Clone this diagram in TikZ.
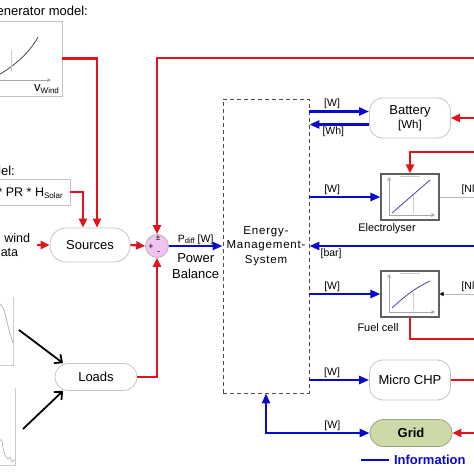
\documentclass[tikz,border=0pt]{standalone}
\usepackage{fontspec}
\setmainfont{Liberation Sans}
\newfontfamily\emsfont[LetterSpace=7]{Liberation Sans}
\usetikzlibrary{arrows.meta,calc}
\definecolor{cred}{RGB}{225,20,30}
\definecolor{cblue}{RGB}{10,10,205}
\definecolor{cpink}{RGB}{240,195,240}
\definecolor{cgrid}{RGB}{205,218,168}
\definecolor{cbox}{RGB}{195,195,195}
\begin{document}
\begin{tikzpicture}[x=1pt,y=-1pt,
  redline/.style={draw=cred, line width=2.2pt},
  redarr/.style={redline, -{Triangle[length=9pt,width=8pt]}},
  bluearr/.style={draw=cblue, line width=2.4pt, -{Triangle[length=10pt,width=8pt]}},
  bluedbl/.style={draw=cblue, line width=2.4pt, {Triangle[length=10pt,width=8pt]}-{Triangle[length=10pt,width=8pt]}},
  blackarr/.style={draw=black, line width=1.8pt, -{Straight Barb[length=6pt,width=11pt]}},
  pill/.style={draw=gray!45, line width=0.8pt, fill=white, rounded corners=#1, inner sep=0pt,
    font=\fontsize{13}{15}\selectfont, align=center},
  plotbox/.style={draw=gray!75!black, line width=1.1pt, fill=white, minimum width=58pt, minimum height=46pt, inner sep=0pt},
  lbl/.style={font=\fontsize{10.5}{12}\selectfont, inner sep=1.5pt},
  txtb/.style={font=\fontsize{13}{15}\selectfont, inner sep=0pt},
  thin/.style={draw=gray!70, line width=0.7pt},
  faint/.style={draw=gray!40, line width=0.6pt}
]
\useasboundingbox (0,0) rectangle (474,474);
\fill[white] (0,0) rectangle (474,474);

% ---------- wind generator model ----------
\node[txtb, anchor=base east] (windtitle) at (88,15) {Wind generator model:};
\node[draw=cbox, line width=0.8pt, fill=white, minimum width=82pt, minimum height=75pt, inner sep=0pt] (windbox) at (21,58.5) {};
\draw[thin, -{Stealth[length=4pt,width=4pt]}] (-10,80) -- (51,80);
\draw[draw=gray!60!black, line width=0.8pt] (-5,77) .. controls (15,66) and (30,52) .. (38,37);
\draw[faint] (11,50) -- (11,72);
\node[inner sep=0pt, anchor=base west] (vwind) at (34,91) {{\fontsize{13}{15}\selectfont v}{\fontsize{8}{9}\selectfont\raisebox{-2pt}{Wind}}};

% ---------- PV model ----------
\node[txtb, anchor=base east] (pvtitle) at (15,175) {PV model:};
\node[draw=cbox, line width=0.8pt, fill=white, minimum width=90pt, minimum height=26pt, inner sep=0pt] (pvbox) at (25,192) {};
\node[inner sep=0pt, anchor=east] (pvtxt) at (63,193) {\fontsize{12.5}{14}\selectfont E = A * r * PR * H{\fontsize{8}{9}\selectfont\raisebox{-2pt}{Solar}}};

% ---------- measured data ----------
\node[align=center, font=\fontsize{12.5}{14}\selectfont, inner sep=0pt] (datatxt) at (6,245) {PV, wind\\data};
\coordinate (dataR) at (37,245);

% ---------- sources, sum, loads ----------
\node[pill=16pt, minimum width=80pt, minimum height=34pt] (sources) at (90,245) {Sources};
\node[circle, draw=gray!60, line width=0.7pt, fill=cpink, minimum size=23pt, inner sep=0pt] (sum) at (157,246) {};
\node[inner sep=0pt, font=\fontsize{8}{9}\selectfont] (spm) at ($(sum)+(1,-8)$) {±};
\node[inner sep=0pt, font=\fontsize{9}{9}\selectfont] (splus) at ($(sum)+(-6,0.5)$) {+};
\node[inner sep=0pt, font=\fontsize{9}{9}\selectfont] (sminus) at ($(sum)+(1.5,7)$) {-};
\node[pill=13.5pt, minimum width=82pt, minimum height=27pt] (loads) at (96,377) {Loads};

% left load profiles
\draw[faint] (13,297) -- (13,365) -- (-5,365);
\draw[draw=gray!55, line width=0.8pt] (-2,303) .. controls (4,304) and (6,318) .. (8,326) .. controls (10,334) and (12,340) .. (13,343);
\draw[faint] (15,388) -- (15,465) -- (-5,465);
\draw[draw=gray!55, line width=0.7pt] (-2,438) -- (2,441) -- (3,448) -- (5,455) -- (8,459) -- (10,457) -- (12,462) -- (15,459);
\coordinate (lp1) at (19,330);
\coordinate (lp2) at (23,429);

% ---------- EMS ----------
\node[draw=gray!60!black, dash pattern=on 4pt off 3pt, line width=0.9pt, minimum width=86pt, minimum height=294pt,
  inner sep=0pt, align=center, font=\emsfont\fontsize{11.5}{14.5}\selectfont] (ems) at (266,246) {Energy-\\Management-\\System};

% ---------- right side components ----------
\node[pill=13pt, minimum width=81pt, minimum height=40pt] (bat) at (410,118) {Battery\\[-1pt]{\fontsize{11.5}{13}\selectfont [Wh]}};
\node[plotbox] (elec) at (410,197) {};
\node[plotbox] (fc) at (410,294) {};
\node[pill=13pt, minimum width=81pt, minimum height=40pt] (chp) at (410,380) {Micro CHP};
\node[pill=13.5pt, minimum width=82pt, minimum height=27pt, fill=cgrid, draw=cgrid!75!black, font=\fontsize{13}{15}\selectfont\bfseries] (grid) at (411,433) {Grid};

% electrolyser plot
\draw[thin, -{Stealth[length=4pt,width=4pt]}] (389,215) -- (389,177);
\draw[thin, -{Stealth[length=4pt,width=4pt]}] (389,215) -- (435,215);
\draw[faint] (413,195) -- (413,213);
\draw[faint] (400,176) -- (420,176);
\draw[draw=cblue!50!gray, line width=0.8pt] (392,213) -- (430,180);
\node[font=\fontsize{11}{13}\selectfont, inner sep=0pt] (eleclbl) at (387,229) {Electrolyser};

% fuel cell plot
\draw[thin, -{Stealth[length=4pt,width=4pt]}] (389,312) -- (389,274);
\draw[thin, -{Stealth[length=4pt,width=4pt]}] (389,312) -- (435,312);
\draw[faint] (413,292) -- (413,310);
\draw[faint] (400,273) -- (420,273);
\draw[draw=cblue!50!gray, line width=0.8pt] (392,308) .. controls (405,296) and (415,288) .. (430,281);
\node[font=\fontsize{11}{13}\selectfont, inner sep=0pt] (fclbl) at (378,328) {Fuel cell};

% ---------- coordinates on the right edge ----------
\coordinate (topR) at (476,58);
\coordinate (batR) at (476,118);
\coordinate (elR) at (476,152);
\coordinate (elG) at (476,197);
\coordinate (barR) at (476,246);
\coordinate (fcG) at (476,294);
\coordinate (fcR) at (476,339);
\coordinate (chpR) at (476,380);
\coordinate (gridR) at (476,433);
\coordinate (b1) at ([yshift=6.5pt]bat.west);
\coordinate (b2) at ([yshift=-6.5pt]bat.west);

% ---------- red connectors ----------
\draw[redarr] (windbox.east) -| ([xshift=7pt]sources.north);
\draw[redarr] (pvbox.east) -| ([xshift=-7pt]sources.north);
\draw[redarr] (dataR) -- (sources.west);
\draw[redarr] (sources.east) -- (sum.west);
\draw[redarr] (topR) -| (sum.north);
\draw[redarr] (loads.east) -| (sum.south);
\draw[redarr] (batR) -- (bat.east);
\draw[redarr] (elR) -| (elec.north);
\draw[redline] (fc.south) |- (fcR);
\draw[redline] (chp.east) -- (chpR);
\draw[redarr] (gridR) -- (grid.east);

% ---------- black connectors ----------
\draw[blackarr] (lp1) -- ([xshift=-33pt]loads.north);
\draw[blackarr] (lp2) -- ([xshift=-33pt]loads.south);

% ---------- blue connectors ----------
\draw[bluearr] (sum.east) -- node[above, lbl, yshift=-1pt]{P{\fontsize{7.5}{8}\selectfont\raisebox{-1.5pt}{diff}} [W]}
  node[below, align=center, font=\fontsize{13}{16}\selectfont, inner sep=2pt, yshift=-4pt]{Power\\Balance} (ems.west);
\draw[bluearr] (b1 -| ems.east) -- node[above, lbl, pos=0.38]{[W]} (b1);
\draw[bluearr] (b2) -- node[below, lbl, pos=0.6]{[Wh]} (b2 -| ems.east);
\draw[bluearr] (ems.east |- elec.west) -- node[above, lbl, pos=0.32]{[W]} (elec.west);
\draw[bluearr] (barR) -- node[below, lbl, pos=0.87]{[bar]} (barR -| ems.east);
\draw[bluearr] (ems.east |- fc.west) -- node[above, lbl, pos=0.32]{[W]} (fc.west);
\draw[bluearr] (ems.east |- chp.west) -- node[above, lbl, pos=0.38]{[W]} (chp.west);
\draw[bluedbl] (grid.west) -| node[above, lbl, pos=0.18]{[W]} (ems.south);

% ---------- gray gas lines ----------
\draw[draw=gray!55, line width=0.8pt] (elec.east) -- node[above, lbl, pos=0.55, anchor=south west]{[Nl/h]} (elG);
\draw[draw=gray!55, line width=0.8pt, -{Triangle[length=4pt,width=4pt,color=black]}] (fcG) -- node[above, lbl, pos=0.45, anchor=south west]{[Nl/h]} (fc.east);

% ---------- legend ----------
\coordinate (lg1) at (361,460);
\draw[draw=cblue, line width=2.2pt] (lg1) -- ++(28,0) node[right, inner sep=4pt, text=cblue, font=\fontsize{13}{15}\selectfont\bfseries] (info) {Information};
\end{tikzpicture}
\end{document}
